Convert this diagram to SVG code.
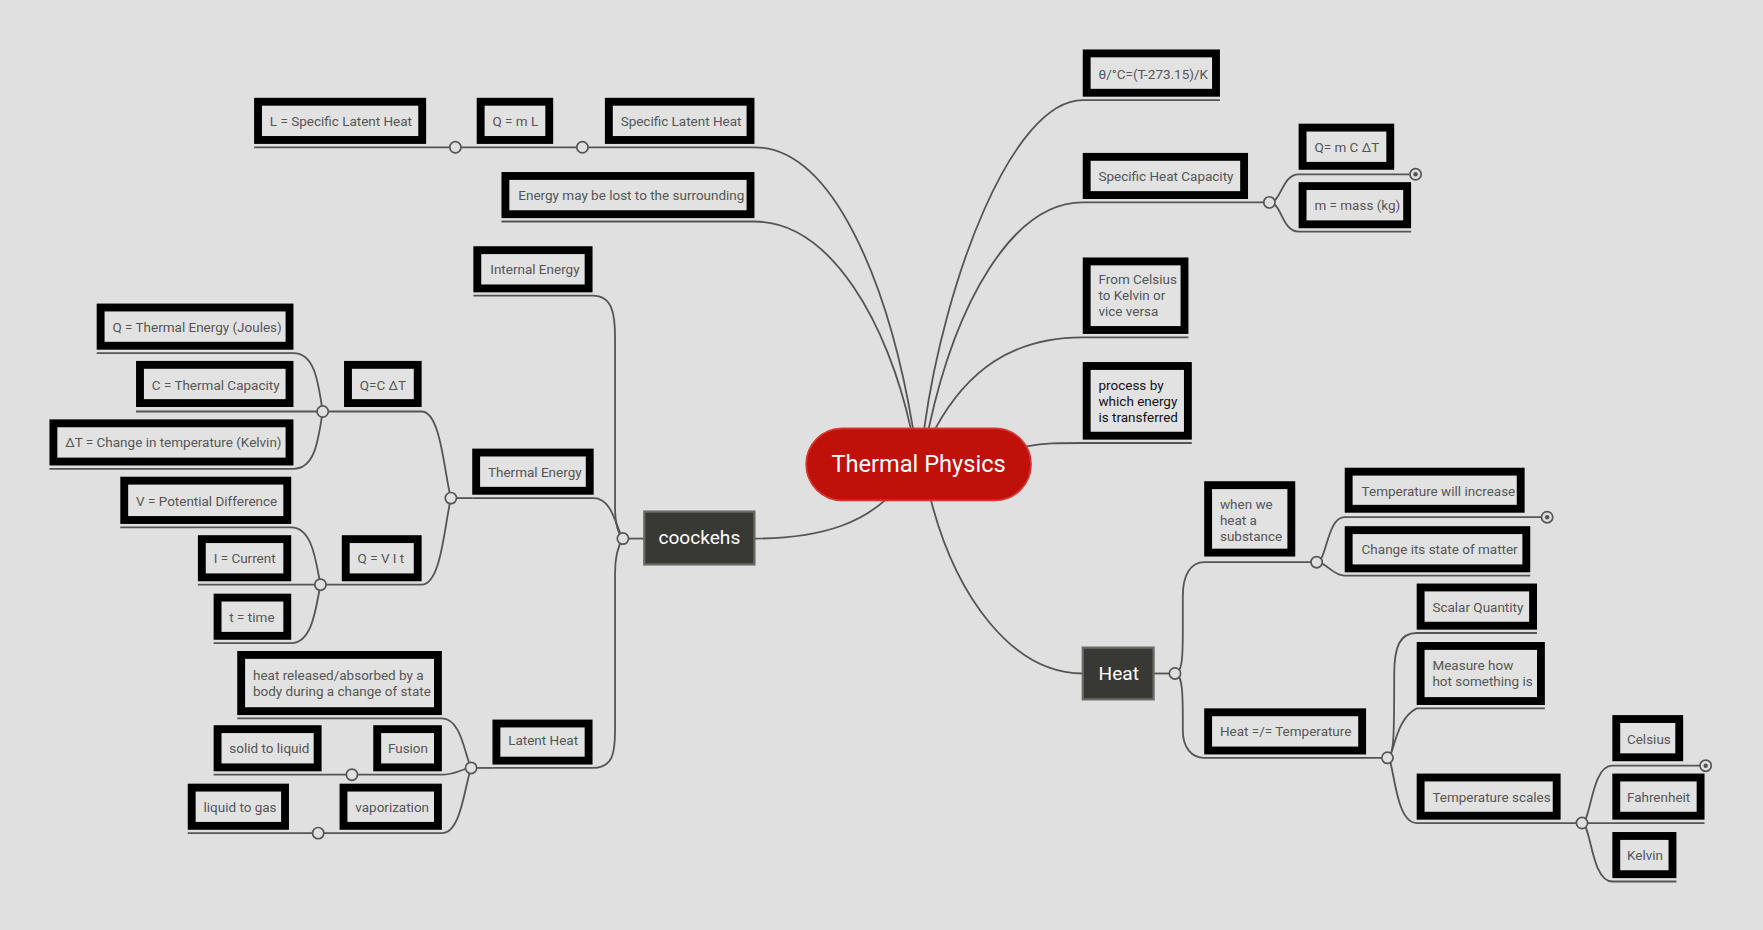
<svg xmlns="http://www.w3.org/2000/svg" width="1763" height="930" viewBox="0 0 1763 930">
<style>
.b{fill:#e2e2e2;stroke:#000;stroke-width:7}
.t{font-family:Roboto,"Liberation Sans",sans-serif;font-size:12px;fill:#555}
.c path{fill:none;stroke:#555;stroke-width:1.6}
.j{fill:#e0e0e0;stroke:#555;stroke-width:1.5}
.d{fill:#555}
</style>
<rect width="1763" height="930" fill="#e0e0e0"/>
<g transform="scale(1.12436)">
<g class="c" id="connectors">
<path d="M226,131 H671 C740,131 790,250 812,381"/>
<path d="M446,197 H671 C740,197 790,290 810,381"/>
<path d="M671,479 C740,479 770,460 787,445"/>
<path d="M822,381 C840,250 900,89 963,89 H1085"/>
<path d="M826,381 C850,270 900,180 963,180 H1129"/>
<path d="M832,381 C860,330 900,300 963,300 H1057"/>
<path d="M913,397 C930,394 940,394 963,394 H1060"/>
<path d="M828,445 C850,530 900,599 963,599"/>
<path d="M86,314 H261 C280,314 283,340 287,366"/>
<path d="M121,366 H375 C392,366 395,420 401,443"/>
<path d="M44,417 H261 C280,417 283,392 287,366"/>
<path d="M420,443 H528 C545,443 548,470 554,479"/>
<path d="M401,443 H420"/>
<path d="M107,469 H259 C278,469 281,500 285,520"/>
<path d="M176,520 H375 C392,520 395,470 401,443"/>
<path d="M190,572 H259 C278,572 281,540 285,520"/>
<path d="M421,263 H527 C545,263 547,280 547,300 V450 C547,465 550,475 554,479"/>
<path d="M438,683 H527 C545,683 547,670 547,650 V510 C547,495 550,485 554,479"/>
<path d="M554,479 H573"/>
<path d="M211,639 H393 C410,639 413,670 419,683"/>
<path d="M190,689 H393 C405,689 410,684 419,683"/>
<path d="M167,741 H393 C410,741 413,700 419,683"/>
<path d="M419,683 H438"/>
<path d="M1129,180 C1140,180 1140,155 1155,155 H1254"/>
<path d="M1129,180 C1140,180 1140,206 1155,206 H1255"/>
<path d="M1026,599 H1045"/>
<path d="M1045,599 C1052,599 1052,580 1052,560 V530 C1052,510 1060,500 1071,500 H1171"/>
<path d="M1045,599 C1052,599 1052,620 1052,640 V650 C1052,665 1060,674 1071,674 H1234"/>
<path d="M1171,500 C1180,500 1180,460 1196,460 H1371"/>
<path d="M1171,500 C1180,500 1185,512 1196,512 H1361"/>
<path d="M1234,674 C1240,674 1240,650 1240,600 C1240,575 1245,563 1260,563 H1367"/>
<path d="M1234,674 C1240,674 1240,640 1260,630 H1374"/>
<path d="M1234,674 C1240,674 1240,732 1260,732 H1407"/>
<path d="M1407,732 C1415,732 1415,681 1434,681 H1512"/>
<path d="M1407,732 H1516"/>
<path d="M1407,732 C1415,732 1415,784 1434,784 H1491"/>
</g>
<g id="junctions">
<circle class="j" cx="405" cy="131" r="5"/><circle class="j" cx="518" cy="131" r="5"/>
<circle class="j" cx="287" cy="366" r="5"/><circle class="j" cx="401" cy="443" r="5"/>
<circle class="j" cx="285" cy="520" r="5"/><circle class="j" cx="554" cy="479" r="5"/>
<circle class="j" cx="419" cy="683" r="5"/><circle class="j" cx="313" cy="689" r="5"/>
<circle class="j" cx="283" cy="741" r="5"/><circle class="j" cx="1129" cy="180" r="5"/>
<circle class="j" cx="1045" cy="599" r="5"/><circle class="j" cx="1171" cy="500" r="5"/>
<circle class="j" cx="1234" cy="674" r="5"/><circle class="j" cx="1407" cy="732" r="5"/>
<circle class="j" cx="1259" cy="155" r="5"/><circle class="d" cx="1259" cy="155" r="2"/>
<circle class="j" cx="1376" cy="460" r="5"/><circle class="d" cx="1376" cy="460" r="2"/>
<circle class="j" cx="1517" cy="681" r="5"/><circle class="d" cx="1517" cy="681" r="2"/>
</g>
<g id="n1"><rect class="b" x="229.5" y="90.5" width="146" height="34"/><text class="t" x="240" y="112">L = Specific Latent Heat</text></g>
<g id="n2"><rect class="b" x="427.5" y="90.5" width="61" height="34"/><text class="t" x="438" y="112">Q = m L</text></g>
<g id="n3"><rect class="b" x="541.5" y="90.5" width="126" height="34"/><text class="t" x="552" y="112">Specific Latent Heat</text></g>
<g id="n4"><rect class="b" x="449.5" y="156.5" width="218" height="34"/><text class="t" x="461" y="178">Energy may be lost to the surrounding</text></g>
<g id="n5"><rect class="b" x="424.5" y="222.5" width="99" height="34"/><text class="t" x="436" y="244">Internal Energy</text></g>
<g id="n6"><rect class="b" x="89.5" y="273.5" width="168" height="34"/><text class="t" x="100" y="295">Q = Thermal Energy (Joules)</text></g>
<g id="n7"><rect class="b" x="124.5" y="324.5" width="133" height="34"/><text class="t" x="135" y="347">C = Thermal Capacity</text></g>
<g id="n8"><rect class="b" x="47.5" y="376.5" width="210" height="34"/><text class="t" x="58" y="398">ΔT = Change in temperature (Kelvin)</text></g>
<g id="n9"><rect class="b" x="309.5" y="324.5" width="62" height="34"/><text class="t" x="320" y="347">Q=C ΔT</text></g>
<g id="n10"><rect class="b" x="423.5" y="402.5" width="101" height="34"/><text class="t" x="434" y="424">Thermal Energy</text></g>
<g id="n11"><rect class="b" x="110.5" y="427.5" width="145" height="35"/><text class="t" x="121" y="450">V = Potential Difference</text></g>
<g id="n12"><rect class="b" x="179.5" y="479.5" width="76" height="34"/><text class="t" x="190" y="501">I = Current</text></g>
<g id="n13"><rect class="b" x="193.5" y="531.5" width="62" height="34"/><text class="t" x="204" y="553">t = time</text></g>
<g id="n14"><rect class="b" x="307.5" y="479.5" width="64" height="34"/><text class="t" x="318" y="501">Q = V I t</text></g>
<g id="n15"><rect class="b" x="214.5" y="582.5" width="175" height="50"/><text class="t" x="225" y="605">heat released/absorbed by a<tspan x="225" dy="14">body during a change of state</tspan></text></g>
<g id="n16"><rect class="b" x="193.5" y="648.5" width="89" height="34"/><text class="t" x="204" y="670">solid to liquid</text></g>
<g id="n17"><rect class="b" x="335.5" y="648.5" width="54" height="34"/><text class="t" x="345" y="670">Fusion</text></g>
<g id="n18"><rect class="b" x="170.5" y="700.5" width="83" height="34"/><text class="t" x="181" y="722">liquid to gas</text></g>
<g id="n19"><rect class="b" x="305.5" y="700.5" width="84" height="34"/><text class="t" x="316" y="722">vaporization</text></g>
<g id="n20"><rect class="b" x="441.5" y="643.5" width="82" height="33"/><text class="t" x="452" y="663">Latent Heat</text></g>
<g id="coockehs"><rect x="573" y="455" width="98" height="47" fill="#383835" stroke="#6a6a66" stroke-width="2"/><text x="622" y="484" text-anchor="middle" font-family="Roboto,'Liberation Sans',sans-serif" font-size="17" fill="#fff">coockehs</text></g>
<g id="n21"><rect class="b" x="966.5" y="47.5" width="115" height="35"/><text class="t" x="977" y="70">θ/°C=(T-273.15)/K</text></g>
<g id="n22"><rect class="b" x="966.5" y="139.5" width="140" height="34"/><text class="t" x="977" y="161">Specific Heat Capacity</text></g>
<g id="n23"><rect class="b" x="1158.5" y="113.5" width="78" height="34"/><text class="t" x="1169" y="135">Q= m C ΔT</text></g>
<g id="n24"><rect class="b" x="1158.5" y="165.5" width="93" height="34"/><text class="t" x="1169" y="187">m = mass (kg)</text></g>
<g id="n25"><rect class="b" x="966.5" y="232.5" width="87" height="61"/><text class="t" x="977" y="253">From Celsius<tspan x="977" dy="14">to Kelvin or</tspan><tspan x="977" dy="14">vice versa</tspan></text></g>
<g id="n26"><rect class="b" x="966.5" y="325.5" width="90" height="62"/><text class="t" x="977" y="347" style="fill:#111">process by<tspan x="977" dy="14">which energy</tspan><tspan x="977" dy="14">is transferred</tspan></text></g>
<g id="heat"><rect x="963" y="576" width="63" height="46" fill="#383835" stroke="#6a6a66" stroke-width="2"/><text x="995" y="605" text-anchor="middle" font-family="Roboto,'Liberation Sans',sans-serif" font-size="17" fill="#fff">Heat</text></g>
<g id="n27"><rect class="b" x="1074.5" y="431.5" width="74" height="60"/><text class="t" x="1085" y="453">when we<tspan x="1085" dy="14">heat a</tspan><tspan x="1085" dy="14">substance</tspan></text></g>
<g id="n28"><rect class="b" x="1199.5" y="419.5" width="153" height="33"/><text class="t" x="1211" y="441">Temperature will increase</text></g>
<g id="n29"><rect class="b" x="1199.5" y="471.5" width="158" height="34"/><text class="t" x="1211" y="493">Change its state of matter</text></g>
<g id="n30"><rect class="b" x="1074.5" y="633.5" width="137" height="34"/><text class="t" x="1085" y="655">Heat =/= Temperature</text></g>
<g id="n31"><rect class="b" x="1263.5" y="522.5" width="100" height="34"/><text class="t" x="1274" y="544">Scalar Quantity</text></g>
<g id="n32"><rect class="b" x="1263.5" y="574.5" width="107" height="49"/><text class="t" x="1274" y="596">Measure how<tspan x="1274" dy="14">hot something is</tspan></text></g>
<g id="n33"><rect class="b" x="1263.5" y="691.5" width="121" height="34"/><text class="t" x="1274" y="713">Temperature scales</text></g>
<g id="n34"><rect class="b" x="1437.5" y="639.5" width="56" height="34"/><text class="t" x="1447" y="662">Celsius</text></g>
<g id="n35"><rect class="b" x="1437.5" y="691.5" width="75" height="34"/><text class="t" x="1447" y="713">Fahrenheit</text></g>
<g id="n36"><rect class="b" x="1437.5" y="743.5" width="50" height="34"/><text class="t" x="1447" y="765">Kelvin</text></g>
<g id="center"><rect x="717" y="381" width="200" height="64" rx="32" fill="#c0100a" stroke="#d6382f" stroke-width="1.5"/><text x="817" y="420" text-anchor="middle" font-family="Roboto,'Liberation Sans',sans-serif" font-size="21" fill="#fff">Thermal Physics</text></g>
</g>
</svg>
